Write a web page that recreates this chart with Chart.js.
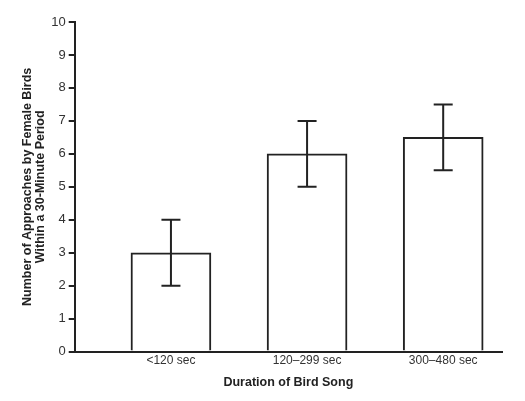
<!DOCTYPE html>
<html>
<head>
<meta charset="utf-8">
<script src="https://cdn.jsdelivr.net/npm/chart.js@4/dist/chart.umd.min.js"></script>
<style>
  html, body { margin: 0; padding: 0; background: #fff; }
  #c { display: block; }
</style>
</head>
<body>
<canvas id="c" width="525" height="401"></canvas>
<script>
// Values: mean approaches with +/- error per song length.
const durations = ['<120 sec', '120\u2013299 sec', '300\u2013480 sec'];
const approaches = [3, 6, 6.5];
const errors = [1, 1, 1];
const yTicks = [0, 1, 2, 3, 4, 5, 6, 7, 8, 9, 10];

const INK = '#222';

// Whiskers with caps, placed through the chart's own scales.
const errorBars = {
  id: 'errorBars',
  afterDatasetsDraw(chart) {
    const { ctx, scales: { x, y } } = chart;
    ctx.save();
    ctx.strokeStyle = INK;
    ctx.lineWidth = 2;
    approaches.forEach((v, i) => {
      const px = x.getPixelForValue(i);
      const top = y.getPixelForValue(v + errors[i]);
      const bot = y.getPixelForValue(v - errors[i]);
      ctx.beginPath();
      ctx.moveTo(px, top); ctx.lineTo(px, bot);
      ctx.moveTo(px - 9.5, top); ctx.lineTo(px + 9.5, top);
      ctx.moveTo(px - 9.5, bot); ctx.lineTo(px + 9.5, bot);
      ctx.stroke();
    });
    ctx.restore();
  }
};

Chart.defaults.font.family = '"Liberation Sans", Arial, sans-serif';
Chart.defaults.color = '#333';

new Chart(document.getElementById('c'), {
  type: 'bar',
  data: {
    datasets: [{
      data: approaches.map((v, i) => ({ x: i, y: v })),
      backgroundColor: '#fff',
      borderColor: INK,
      borderWidth: 2,
      barThickness: 80,
    }]
  },
  options: {
    responsive: false,
    animation: false,
    layout: { padding: { top: 22, right: 23, left: 21, bottom: 11 } },
    plugins: { legend: { display: false }, tooltip: { enabled: false } },
    scales: {
      x: {
        type: 'linear',
        offset: false,
        min: -0.707,
        max: 2.432,
        afterBuildTicks: s => { s.ticks = durations.map((_, i) => ({ value: i })); },
        ticks: {
          callback: v => durations[v],
          font: { size: 12 },
          color: '#333',
          padding: 2,
          maxRotation: 0,
        },
        grid: { display: false, drawTicks: false },
        border: { color: INK, width: 2 },
        title: {
          display: true,
          text: 'Duration of Bird Song',
          font: { size: 12.5, weight: 'bold' },
          color: '#222',
          padding: { top: 5, bottom: 0 },
        },
      },
      y: {
        min: 0,
        max: 10,
        afterBuildTicks: s => { s.ticks = yTicks.map(v => ({ value: v })); },
        ticks: { font: { size: 13 }, color: '#333', padding: 3 },
        grid: { drawOnChartArea: false, tickLength: 6, tickColor: INK, lineWidth: 2 },
        border: { color: INK, width: 2 },
        title: {
          display: true,
          text: ['Number of Approaches by Female Birds', 'Within a 30-Minute Period'],
          font: { size: 12.5, weight: 'bold', lineHeight: 1.05 },
          color: '#222',
          padding: { top: 0, bottom: 1 },
        },
      }
    }
  },
  plugins: [errorBars]
});
</script>
</body>
</html>
